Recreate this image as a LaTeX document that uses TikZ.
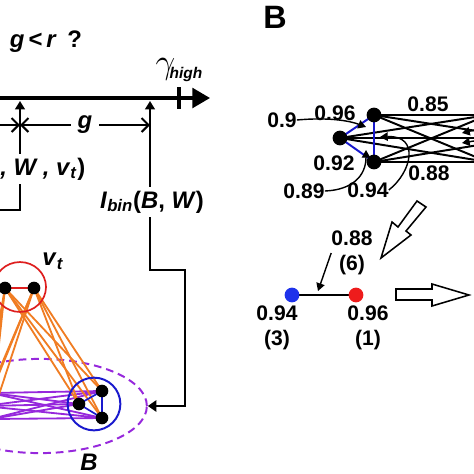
\documentclass[tikz,border=0pt]{standalone}
\usepackage{amsmath}
\usepackage{fontspec}
\setmainfont{Liberation Sans}
\usepackage{tikz}
\usetikzlibrary{arrows.meta,shapes.geometric}
\tikzset{>/.tip={Triangle[length=5.5pt,width=6pt]}}
\newcommand{\bi}[1]{\textbf{\textit{#1}}}
\definecolor{vtred}{RGB}{222,30,30}
\definecolor{setblue}{RGB}{25,25,205}
\definecolor{setpurple}{RGB}{150,40,220}
\definecolor{edgeorange}{RGB}{240,125,35}
\definecolor{dotblue}{RGB}{30,50,235}
\definecolor{dotred}{RGB}{238,28,28}

\begin{document}
\begin{tikzpicture}[x=0.025cm,y=-0.025cm,
  dot/.style={circle,fill=black,inner sep=0pt,minimum size=9pt},
  bdot/.style={circle,fill=black,inner sep=0pt,minimum size=10.5pt},
  lab/.style={inner sep=0pt,align=center,font=\fontsize{15}{17.5}\selectfont\bfseries},
  mlab/.style={inner sep=0pt,font=\fontsize{17}{17}\selectfont},
  wire/.style={line width=1.4pt},
  thin wire/.style={line width=1.3pt},
  callout/.style={->,line width=1pt},
  uparrow/.style={-{Triangle[length=6pt,width=7pt]},line width=1.3pt},
  dim/.style={line width=1.4pt}]
\useasboundingbox (0,0) rectangle (474,474);
\clip (0,0) rectangle (474,474);

% panel A
\node[mlab] (q) at (46,42) {\bi{g}\,\textbf{<}\,\bi{r}\,\textbf{ ?}};
\coordinate (ax0) at (-5,98);
\coordinate (ax1) at (210,98);
\coordinate (tk0) at (179,87);
\coordinate (tk1) at (179,109);
\draw[line width=2.3pt,-{Triangle[length=12.5pt,width=14pt]}] (ax0) -- (ax1);
\draw[line width=2.3pt] (tk0) -- (tk1);
\node[mlab] (gam) at (179,70) {{\fontsize{25}{25}\selectfont$\gamma$}\hspace{-4pt}\raisebox{-4pt}{\fontsize{11}{11}\selectfont\bi{high}}};

\coordinate (a1) at (20,101);
\coordinate (a2) at (150,101);
\coordinate (d0) at (-10,125);
\coordinate (d1) at (20,125);
\coordinate (d2) at (150,125);
\draw[dim,-{Straight Barb[length=5pt,width=10pt]}] (d0) -- (d1);
\draw[dim,{Straight Barb[length=5pt,width=10pt]}-{Straight Barb[length=5pt,width=10pt]}] (d1) -- node[mlab,fill=white,inner xsep=5pt] (g) {\bi{g}} (d2);

\node[mlab,anchor=west,outer ysep=3pt] (vtxt) at (0,169) {\bi{, W , v}$_{\bi{t}}$\textbf{)}};
\node[mlab,outer ysep=3pt] (Ibin) at (152,202) {\bi{I}$_{\bi{bin}}$\textbf{(}\bi{B}\textbf{, }\bi{W}\textbf{)}};
\coordinate (w1) at (0,210);
\coordinate (k1) at (185,270);
\draw[uparrow] (vtxt.north -| a1) -- (a1);
\draw[uparrow] (Ibin.north -| a2) -- (a2);
\draw[line width=1.3pt] (vtxt.south -| a1) |- (w1);

\node[ellipse,draw=setpurple,line width=1.4pt,dash pattern=on 5.5pt off 3.5pt,minimum width=152pt,minimum height=67pt,inner sep=0pt] (Bset) at (40,406) {};
\draw[-{Triangle[length=6pt,width=8pt]},line width=1.3pt] (Ibin.south -| a2) |- (k1) |- (Bset.east);

\coordinate (v1) at (5,288);
\coordinate (v2) at (34,288);
\coordinate (b1) at (102,391);
\coordinate (b2) at (79,404);
\coordinate (b3) at (102,418);
\coordinate (c1) at (-9,393);
\coordinate (c2) at (-16,406);
\coordinate (c3) at (-9,419);

\path[thin wire,draw=setpurple] (c1) edge (b1) edge (b2) edge (b3);
\path[thin wire,draw=setpurple] (c2) edge (b1) edge (b2) edge (b3);
\path[thin wire,draw=setpurple] (c3) edge (b1) edge (b2) edge (b3);
\path[thin wire,draw=edgeorange] (v1) edge (b1) edge (b2) edge (b3) edge (c1) edge (c2) edge (c3);
\path[thin wire,draw=edgeorange] (v2) edge (b1) edge (b2) edge (b3) edge (c1) edge (c2) edge (c3);

\node[circle,draw=setblue,line width=1.4pt,minimum size=37.5pt,inner sep=0pt] (Bcirc) at (94,404) {};
\node[ellipse,draw=vtred,line width=1.2pt,minimum width=37pt,minimum height=35.5pt,inner sep=0pt] (vtset) at (20,287) {};
\draw[vtred,line width=1.2pt] (v1) -- (v2);
\draw[setblue,line width=1.2pt] (b1) -- (b2) -- (b3) -- (b1);

\node[dot] (V1) at (v1) {};
\node[dot] (V2) at (v2) {};
\node[dot] (B1) at (b1) {};
\node[dot] (B2) at (b2) {};
\node[dot] (B3) at (b3) {};

\node[mlab] (vtlab) at (53,261) {\bi{v}$_{\bi{t}}$};
\node[mlab] (Blab) at (89,462) {\bi{B}};

% panel B
\node[inner sep=0pt,font=\fontsize{23}{23}\selectfont\bfseries] (Bpanel) at (275,17) {B};

\coordinate (lt) at (374,115);
\coordinate (lm) at (340,138);
\coordinate (lb) at (374,162);
\coordinate (rt) at (488,115);
\coordinate (rm) at (522,138);
\coordinate (rb) at (488,162);

\path[wire] (lt) edge (rt) edge (rm) edge (rb);
\path[wire] (lm) edge (rt) edge (rm) edge (rb);
\path[wire] (lb) edge (rt) edge (rm) edge (rb);
\draw[setblue,line width=1.4pt] (lt) -- (lm) -- (lb) -- (lt);

\node[bdot] (LT) at (lt) {};
\node[bdot] (LM) at (lm) {};
\node[bdot] (LB) at (lb) {};

\node[lab] (n090) at (282,120) {0.9};
\node[lab] (n096) at (335,113) {0.96};
\node[lab] (n085) at (428,104) {0.85};
\node[lab] (n092) at (334,163) {0.92};
\node[lab] (n089) at (304,191) {0.89};
\node[lab] (n094) at (368,190) {0.94};
\node[lab] (n088) at (429,173) {0.88};

\coordinate (t1) at (366,127);
\coordinate (t2) at (366,150);
\coordinate (t3) at (380,137);
\coordinate (e1) at (492,126);
\coordinate (t4) at (462,133);
\coordinate (e2) at (492,138);
\coordinate (t5) at (462,143);
\draw[callout] (n090.east) .. controls (330,117) and (350,121) .. (t1);
\draw[callout] (n089.east) .. controls (352,190) and (366,176) .. (t2);
\draw[callout] (n094.east) .. controls (412,172) and (420,135) .. (t3);
\draw[callout] (e1) -- (t4);
\draw[callout] (e2) -- (t5);

\draw[fill=white,line width=1.1pt] (417,201) -- (426,207) -- (406,231) -- (411,235) -- (381,258) -- (392,222) -- (398,227) -- cycle;

\coordinate (u1) at (292,295);
\coordinate (u2) at (356,295);
\draw[wire] (u1) -- (u2);
\node[circle,fill=dotblue,inner sep=0pt,minimum size=10.5pt] (U1) at (u1) {};
\node[circle,fill=dotred,inner sep=0pt,minimum size=10.5pt] (U2) at (u2) {};

\node[lab] (w088) at (352,253) {0.88\\(6)};
\node[lab] (w094) at (277,328) {0.94\\(3)};
\node[lab] (w096) at (368,328) {0.96\\(1)};
\coordinate (t6) at (318,291);
\draw[callout] (w088.west) -- (t6);

\draw[fill=white,line width=1.1pt] (396,289) -- (432,289) -- (432,284) -- (469,295) -- (432,306) -- (432,300) -- (396,300) -- cycle;
\end{tikzpicture}
\end{document}
